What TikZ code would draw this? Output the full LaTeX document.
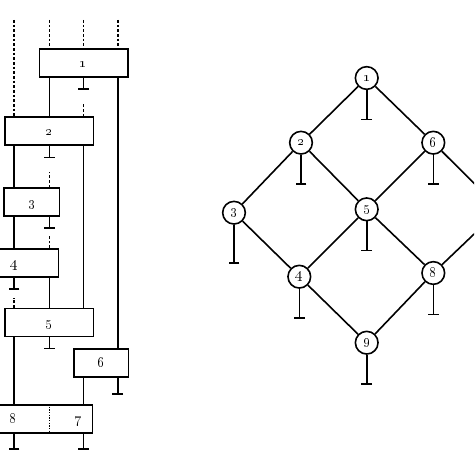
\documentclass[tikz,border=0pt]{standalone}
\usetikzlibrary{arrows.meta}
\tikzset{
  wire/.style={line width=1.2pt},
  dotwire/.style={line width=1.2pt, dash pattern=on 2pt off 1.5pt},
  stub/.style={line width=1.2pt, -{Bar[width=8pt]}},
  blok/.style={draw, line width=1.2pt, minimum height=21pt, inner sep=0pt, font=\fontsize{11}{13}\selectfont, text height=1.7ex, text depth=0.2ex},
  knoop/.style={draw, circle, line width=1.2pt, minimum size=17pt, inner sep=0pt, font=\fontsize{11}{13}\selectfont},
}
\begin{document}
\begin{tikzpicture}[x=0.75pt,y=-0.75pt]
        \useasboundingbox (0,0) rectangle (474,474);
        \clip (0,0) rectangle (474,474);
        % left: the blocks on four wires
        \coordinate (t1) at (14,20);
        \coordinate (t2) at (49.3,20);
        \coordinate (t3) at (83.3,20);
        \coordinate (t4) at (117.7,20);
        \node[blok, minimum width=66.3pt] (b1) at (83.5,63.3) {\oldstylenums{1}};
        \node[blok, minimum width=66.3pt] (b2) at (49.2,131.3) {\oldstylenums{2}};
        \node[blok, minimum width=41.5pt] (b3) at (31.7,202.2) {\oldstylenums{3}};
        \node[blok, minimum width=66.3pt] (b4) at (14.3,262.8) {\oldstylenums{4}};
        \node[blok, minimum width=66.3pt] (b5) at (49.2,322.5) {\oldstylenums{5}};
        \node[blok, minimum width=40.8pt] (b6) at (101.2,363) {\oldstylenums{6}};
        \node[blok, minimum width=91.7pt] (b87) at (31.2,418.8) {};
        \node[font=\fontsize{11}{13}\selectfont, text height=1.7ex, text depth=0.2ex] (l8) at (13.3,418.8) {\oldstylenums{8}};
        \node[font=\fontsize{11}{13}\selectfont, text height=1.7ex, text depth=0.2ex] (l7) at (77.7,418.8) {\oldstylenums{7}};
        \coordinate (d) at (49,0);
        \draw[line width=0.6pt, dash pattern=on 1pt off 1pt] (d |- b87.north) -- (d |- b87.south);
        % incoming wires
        \draw[dotwire] (t1) -- (t1 |- b2.north);
        \foreach \t in {t2,t3,t4}
            \draw[dotwire] (\t) -- (\t |- b1.north);
        % solid wires between blocks
        \draw[wire] (t2 |- b1.south) -- (t2 |- b2.north);
        \draw[wire] (t4 |- b1.south) -- (t4 |- b6.north);
        \draw[wire] (t1 |- b2.south) -- (t1 |- b3.north);
        \draw[wire] (t3 |- b2.south) -- (t3 |- b5.north);
        \draw[wire] (t1 |- b3.south) -- (t1 |- b4.north);
        \draw[wire] (t2 |- b4.south) -- (t2 |- b5.north);
        \draw[wire] (t1 |- b5.south) -- (t1 |- b87.north);
        \draw[wire] (t3 |- b6.south) -- (t3 |- b87.north);
        % cut wires
        \draw[stub] (t3 |- b1.south) -- ++(0,12);
        \draw[dotwire] (t3 |- b2.north) -- ++(0,-14);
        \draw[stub] (t2 |- b2.south) -- ++(0,12);
        \draw[dotwire] (t2 |- b3.north) -- ++(0,-15);
        \draw[stub] (t2 |- b3.south) -- ++(0,12);
        \draw[dotwire] (t2 |- b4.north) -- ++(0,-12);
        \draw[stub] (t1 |- b4.south) -- ++(0,12);
        \draw[dotwire] (t1 |- b5.north) -- ++(0,-10);
        \draw[stub] (t2 |- b5.south) -- ++(0,12);
        \draw[stub] (t4 |- b6.south) -- ++(0,17);
        \draw[stub] (t1 |- b87.south) -- ++(0,16);
        \draw[stub] (t3 |- b87.south) -- ++(0,16);
        % right: the lattice
        \node[knoop] (n1) at (366.7,78) {\oldstylenums{1}};
        \node[knoop] (n2) at (301,142.7) {\oldstylenums{2}};
        \node[knoop] (n6) at (433.3,142.7) {\oldstylenums{6}};
        \node[knoop] (n3) at (234,212.7) {\oldstylenums{3}};
        \node[knoop] (n5) at (366.7,209.3) {\oldstylenums{5}};
        \node[knoop] (n4) at (299.3,276.7) {\oldstylenums{4}};
        \node[knoop] (n8) at (433.3,273) {\oldstylenums{8}};
        \node[knoop] (n9) at (366.7,342.7) {\oldstylenums{9}};
        \coordinate (n7) at (500,209.3);
        \foreach \a/\b in {n1/n2,n1/n6,n2/n3,n2/n5,n6/n5,n6/n7,n3/n4,n5/n4,n5/n8,n8/n7,n4/n9,n8/n9}
            \draw[wire] (\a) -- (\b);
        \foreach \n in {n1,n2,n4,n5,n6,n8,n9}
            \draw[stub] (\n.south) -- ++(0,30);
        \draw[stub] (n3.south) -- ++(0,39);
\end{tikzpicture}
\end{document}
